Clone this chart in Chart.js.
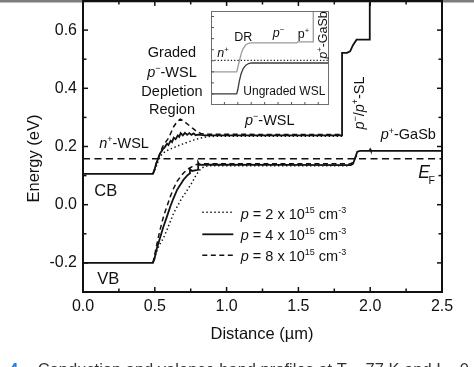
<!DOCTYPE html>
<html>
<head>
<meta charset="utf-8">
<script src="https://cdn.jsdelivr.net/npm/chart.js@4.4.1/dist/chart.umd.min.js"></script>
<style>
  html, body { margin: 0; padding: 0; background: #fff; }
  #wrap { position: relative; width: 474px; height: 367px; overflow: hidden; }
  #inset-box { position: absolute; left: 211px; top: 11px; width: 118px; height: 94px; background: #fff; }
</style>
</head>
<body>
<div id="wrap">
  <canvas id="band-chart" width="474" height="367"></canvas>
  <div id="inset-box"><canvas id="inset-chart" width="118" height="94"></canvas></div>
</div>
<script>
// band edges, [distance (um), energy (eV)]

// Fermi level
let fermiLevel = [[0, 0.158], [2.5, 0.158]]

// p = 4e15 (solid), conduction band then valence band
let cbSolid = [[0, 0.106], [0.487, 0.106], [0.495, 0.115], [0.505, 0.133], [0.52, 0.155], [0.538, 0.177],
    [0.555, 0.19], [0.57, 0.198], [0.585, 0.21], [0.595, 0.205], [0.61, 0.22], [0.62, 0.215], [0.632, 0.23],
    [0.645, 0.225], [0.66, 0.238], [0.67, 0.233], [0.68, 0.246], [0.695, 0.238], [0.71, 0.247], [0.725, 0.24],
    [0.74, 0.246], [0.755, 0.24], [0.77, 0.245], [0.785, 0.239], [0.8, 0.241], [0.85, 0.238], [1.804, 0.238],
    [1.804, 0.522], [1.838, 0.522], [1.86, 0.527], [1.88, 0.548], [1.905, 0.567], [1.997, 0.567], [1.997, 0.75]]
let vbSolid = [[0, -0.2], [0.487, -0.2], [0.497, -0.187], [0.505, -0.17], [0.515, -0.149], [0.53, -0.125],
    [0.545, -0.1], [0.561, -0.074], [0.585, -0.04], [0.608, -0.006], [0.63, 0.022], [0.655, 0.051], [0.68, 0.07],
    [0.7, 0.086], [0.725, 0.1], [0.745, 0.108], [0.745, 0.122], [0.76, 0.116], [0.78, 0.118], [0.802, 0.12],
    [0.802, 0.145], [0.81, 0.137], [0.86, 0.138], [1.865, 0.136], [1.88, 0.14], [1.895, 0.16], [1.91, 0.182],
    [1.93, 0.185], [1.995, 0.185], [2.0, 0.19], [2.005, 0.185], [2.5, 0.185]]

// p = 2e15 (dotted)
let cbDotted = [[0.487, 0.106], [0.505, 0.125], [0.52, 0.145], [0.538, 0.166], [0.56, 0.178], [0.59, 0.187],
    [0.631, 0.196], [0.68, 0.206], [0.724, 0.214], [0.77, 0.222], [0.817, 0.229], [0.87, 0.234], [0.92, 0.235],
    [1.804, 0.235]]
let vbDotted = [[0.487, -0.2], [0.51, -0.165], [0.53, -0.14], [0.56, -0.115], [0.585, -0.086], [0.61, -0.055],
    [0.631, -0.029], [0.66, -0.003], [0.689, 0.023], [0.71, 0.038], [0.735, 0.057], [0.76, 0.077], [0.782, 0.097],
    [0.81, 0.118], [0.84, 0.13], [0.88, 0.134], [1.85, 0.134]]

// p = 8e15 (dashed)
let cbDashed = [[0.487, 0.106], [0.5, 0.125], [0.515, 0.15], [0.535, 0.175], [0.555, 0.2], [0.575, 0.215],
    [0.596, 0.229], [0.615, 0.25], [0.631, 0.268], [0.655, 0.285], [0.678, 0.294], [0.7, 0.288], [0.735, 0.274],
    [0.765, 0.262], [0.794, 0.251], [0.82, 0.245], [0.86, 0.242], [1.804, 0.241]]
let vbDashed = [[0.487, -0.2], [0.5, -0.17], [0.515, -0.135], [0.53, -0.1], [0.545, -0.07], [0.561, -0.04],
    [0.585, -0.005], [0.608, 0.028], [0.63, 0.055], [0.655, 0.08], [0.68, 0.097], [0.7, 0.109], [0.73, 0.122],
    [0.76, 0.131], [0.79, 0.138], [0.83, 0.141], [1.84, 0.141], [1.86, 0.14], [1.88, 0.145], [1.9, 0.165],
    [1.915, 0.184]]

// inset: ungraded WSL (arbitrary energy units)
let insetCb = [[0, 0], [0.479, 0], [0.5, 0.04], [0.53, 0.1], [0.56, 0.16], [0.6, 0.21], [0.65, 0.245],
    [0.7, 0.258], [0.75, 0.262], [1.6, 0.262], [1.62, 0.27], [1.907, 0.27], [1.907, 0.6]]
let insetFermi = [[0, 0.103], [2.2, 0.103]]
let insetVb = [[0, -0.2], [0.479, -0.2], [0.5, -0.16], [0.53, -0.08], [0.56, -0.02], [0.6, 0.03], [0.65, 0.06],
    [0.7, 0.075], [0.75, 0.08], [2.2, 0.08]]

// legend labels (doping)
let legendDoping = ['2', '4', '8']

const FONT = '"Liberation Sans", Arial, Helvetica, sans-serif'
const INK = '#111'

function pts(arr) {
    return arr.map(p => ({x: p[0], y: p[1]}))
}

function partFont(p, size) {
    let s = (p.sup || p.sub) ? size * 0.62 : size
    return (p.it ? 'italic ' : '') + s + 'px ' + FONT
}

// draw text made of pieces (italic, superscript, subscript)
function drawRich(ctx, parts, x, y, size, align) {
    let widths = parts.map(p => { ctx.font = partFont(p, size); return ctx.measureText(p.t).width })
    let total = widths.reduce((a, b) => a + b, 0)
    let cx = align === 'center' ? x - total / 2 : x
    ctx.textAlign = 'left'
    ctx.textBaseline = 'alphabetic'
    parts.forEach((p, i) => {
        ctx.font = partFont(p, size)
        let dy = p.sup ? -size * 0.4 : p.sub ? size * 0.25 : 0
        ctx.fillText(p.t, cx, y + dy)
        cx += widths[i]
    })
}

function seg(ctx, x1, y1, x2, y2) {
    ctx.beginPath()
    ctx.moveTo(x1, y1)
    ctx.lineTo(x2, y2)
    ctx.stroke()
}

let solidStyle = {borderColor: INK, borderWidth: 1.8, borderDash: []}
let dottedStyle = {borderColor: INK, borderWidth: 1.5, borderDash: [1.4, 2.6]}
let dashedStyle = {borderColor: INK, borderWidth: 1.5, borderDash: [5, 3.5]}

let bandDecor = {
    id: 'bandDecor',
    afterDraw(chart) {
        let ctx = chart.ctx
        let xs = chart.scales.x, ys = chart.scales.y
        let a = chart.chartArea
        ctx.save()
        ctx.fillStyle = '#7d7d7d'
        ctx.fillRect(0, 0, chart.width, 2.5)

        ctx.strokeStyle = INK
        ctx.lineWidth = 2
        ctx.strokeRect(a.left, a.top, a.right - a.left, a.bottom - a.top)

        // inward ticks on all four sides
        ctx.lineWidth = 1.5
        xs.ticks.forEach(t => {
            let px = xs.getPixelForValue(t.value)
            let len = (t.label !== '') ? 5 : 3.5
            seg(ctx, px, a.bottom, px, a.bottom - len)
            seg(ctx, px, a.top, px, a.top + len)
        })
        ys.ticks.forEach(t => {
            let py = ys.getPixelForValue(t.value)
            let len = (t.label !== '') ? 5 : 3.5
            seg(ctx, a.left, py, a.left + len, py)
            seg(ctx, a.right, py, a.right - len, py)
        })

        ctx.fillStyle = INK
        // axis titles
        ctx.font = '16.5px ' + FONT
        ctx.textAlign = 'center'
        ctx.textBaseline = 'alphabetic'
        ctx.fillText('Distance (\u00b5m)', 262, 339)
        ctx.save()
        ctx.translate(39, 158.5)
        ctx.rotate(-Math.PI / 2)
        ctx.fillText('Energy (eV)', 0, 0)
        ctx.restore()

        // region labels
        ctx.textAlign = 'center'
        ctx.font = '14.5px ' + FONT
        ctx.fillText('Graded', 172, 57)
        drawRich(ctx, [{t: 'p', it: true}, {t: '\u2212', sup: true}, {t: '-WSL'}], 172, 77, 14.5, 'center')
        ctx.textAlign = 'center'
        ctx.font = '14.5px ' + FONT
        ctx.fillText('Depletion', 172, 96)
        ctx.fillText('Region', 172, 114)

        drawRich(ctx, [{t: 'p', it: true}, {t: '\u2212', sup: true}, {t: '-WSL'}], 245, 125, 14.5)
        drawRich(ctx, [{t: 'n', it: true}, {t: '+', sup: true}, {t: '-WSL'}], 99.3, 147.7, 14.5)
        drawRich(ctx, [{t: 'p', it: true}, {t: '+', sup: true}, {t: '-GaSb'}], 380.7, 139.3, 14.5)
        drawRich(ctx, [{t: 'CB'}], 94.3, 196, 16.5)
        drawRich(ctx, [{t: 'VB'}], 97.3, 284, 16.5)
        drawRich(ctx, [{t: 'E', it: true}], 418.3, 178.3, 17.5)
        drawRich(ctx, [{t: 'F', sub: true}], 428.5, 180, 17)

        ctx.save()
        ctx.translate(364, 103)
        ctx.rotate(-Math.PI / 2)
        drawRich(ctx, [{t: 'p', it: true}, {t: '\u2212', sup: true}, {t: '/'}, {t: 'p', it: true},
            {t: '+', sup: true}, {t: '-SL'}], 0, 0, 14.5, 'center')
        ctx.restore()

        // legend
        let rows = [[212.3, 218.5, dottedStyle], [234.3, 240, solidStyle], [255.3, 261, dashedStyle]]
        rows.forEach((r, i) => {
            ctx.save()
            ctx.strokeStyle = INK
            ctx.lineWidth = r[2].borderWidth
            ctx.setLineDash(r[2].borderDash)
            seg(ctx, 202.3, r[0], 233.3, r[0])
            ctx.restore()
            drawRich(ctx, [{t: 'p', it: true}, {t: ' = ' + legendDoping[i] + ' x 10'}, {t: '15', sup: true},
                {t: ' cm'}, {t: '-3', sup: true}], 240.7, r[1], 14.5)
        })

        // caption, cut off by the lower edge
        ctx.font = 'bold 16.5px ' + FONT
        ctx.fillStyle = '#2a7fd4'
        ctx.textAlign = 'left'
        ctx.fillText('4', 9, 374.5)
        ctx.font = '16.5px ' + FONT
        ctx.fillStyle = '#333'
        ctx.fillText('Conduction and valence band profiles at T = 77 K and I = 0', 37.7, 374.5)
        ctx.restore()
    }
}

let bandChart = new Chart(document.getElementById('band-chart'), {
    type: 'scatter',
    data: {
        datasets: [
            {data: pts(fermiLevel), borderColor: INK, borderWidth: 1.5, borderDash: [7, 4.5]},
            Object.assign({data: pts(cbSolid)}, solidStyle),
            Object.assign({data: pts(vbSolid)}, solidStyle),
            Object.assign({data: pts(cbDotted)}, dottedStyle),
            Object.assign({data: pts(vbDotted)}, dottedStyle),
            Object.assign({data: pts(cbDashed)}, dashedStyle),
            Object.assign({data: pts(vbDashed)}, dashedStyle),
        ].map(d => Object.assign(d, {showLine: true, pointRadius: 0, tension: 0, fill: false}))
    },
    options: {
        responsive: false,
        animation: false,
        layout: {padding: {top: 1, right: 32, left: 0, bottom: 0}},
        plugins: {legend: {display: false}, tooltip: {enabled: false}},
        scales: {
            x: {
                type: 'linear', min: 0, max: 2.5,
                grid: {display: false, drawTicks: false},
                border: {display: false},
                ticks: {
                    stepSize: 0.25, padding: 5, color: INK, autoSkip: false, maxRotation: 0,
                    font: {family: FONT, size: 16},
                    callback: v => Math.abs(v * 2 - Math.round(v * 2)) < 1e-6 ? v.toFixed(1) : ''
                },
                afterFit: s => { s.height = 75; s.paddingLeft = 0; s.paddingRight = 0 }
            },
            y: {
                type: 'linear', min: -0.3, max: 0.7,
                grid: {display: false, drawTicks: false},
                border: {display: false},
                ticks: {
                    stepSize: 0.1, padding: 6, color: INK, autoSkip: false,
                    font: {family: FONT, size: 16},
                    callback: v => {
                        let t = Math.round(v * 10)
                        return (t % 2 === 0 && t >= -2 && t <= 6) ? (t / 10).toFixed(1) : ''
                    }
                },
                afterFit: s => { s.width = 83; s.paddingTop = 0; s.paddingBottom = 0 }
            }
        }
    },
    plugins: [bandDecor]
})

// inset
let insetDecor = {
    id: 'insetDecor',
    afterDraw(chart) {
        let ctx = chart.ctx
        let xs = chart.scales.x, ys = chart.scales.y
        ctx.save()
        ctx.strokeStyle = '#6e6e6e'
        ctx.lineWidth = 1
        ctx.strokeRect(0.5, 0.5, chart.width - 1, chart.height - 1)
        ctx.strokeStyle = '#555'
        for (let v = 0.25; v < 2.2; v += 0.25) {
            let px = xs.getPixelForValue(v)
            seg(ctx, px, chart.height, px, chart.height - 3)
        }
        for (let v = -0.2; v < 0.55; v += 0.1) {
            let py = ys.getPixelForValue(v)
            seg(ctx, 0, py, 3, py)
        }
        ctx.fillStyle = INK
        drawRich(ctx, [{t: 'DR'}], 23.3, 29.7, 12.5)
        drawRich(ctx, [{t: 'p', it: true}, {t: '\u2212', sup: true}], 61.7, 26, 12.5)
        drawRich(ctx, [{t: 'p'}, {t: '+', sup: true}], 86.7, 27, 12.5)
        drawRich(ctx, [{t: 'n', it: true}, {t: '+', sup: true}], 6.3, 46.3, 12.5)
        drawRich(ctx, [{t: 'Ungraded WSL'}], 32.3, 84, 12)
        ctx.save()
        ctx.translate(115.5, 24)
        ctx.rotate(-Math.PI / 2)
        drawRich(ctx, [{t: 'p', it: true}, {t: '+', sup: true}, {t: '-GaSb'}], 0, 0, 12.5, 'center')
        ctx.restore()
        ctx.restore()
    }
}

let insetChart = new Chart(document.getElementById('inset-chart'), {
    type: 'scatter',
    data: {
        datasets: [
            {data: pts(insetFermi), borderColor: '#222', borderWidth: 1.2, borderDash: [1.3, 2]},
            {data: pts(insetCb), borderColor: '#9a9a9a', borderWidth: 1.3},
            {data: pts(insetVb), borderColor: '#3a3a3a', borderWidth: 1.3},
        ].map(d => Object.assign(d, {showLine: true, pointRadius: 0, tension: 0, fill: false}))
    },
    options: {
        responsive: false,
        animation: false,
        layout: {padding: 0},
        plugins: {legend: {display: false}, tooltip: {enabled: false}},
        scales: {
            x: {type: 'linear', min: 0, max: 2.2, display: false},
            y: {type: 'linear', min: -0.3, max: 0.55, display: false}
        }
    },
    plugins: [insetDecor]
})
</script>
</body>
</html>
